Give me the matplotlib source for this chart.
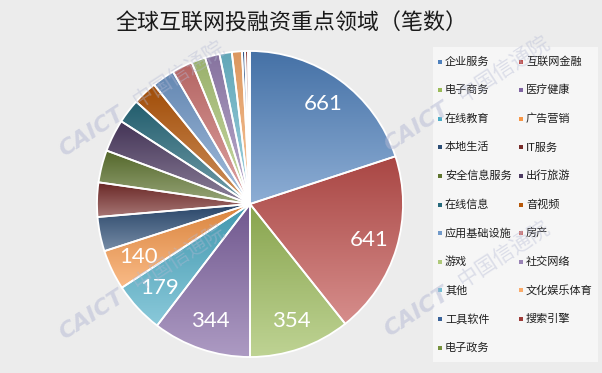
import numpy as np
import matplotlib
matplotlib.use("Agg")
import matplotlib.pyplot as plt
from matplotlib.colors import LinearSegmentedColormap, to_rgb
from matplotlib.patches import Rectangle

plt.rcParams["font.family"] = ["Noto Sans CJK SC", "DejaVu Sans"]

TITLE = "全球互联网投融资重点领域（笔数）"
CATEGORIES = [
    "企业服务", "互联网金融", "电子商务", "医疗健康", "在线教育", "广告营销",
    "本地生活", "IT服务", "安全信息服务", "出行旅游", "在线信息", "音视频",
    "应用基础设施", "房产", "游戏", "社交网络", "其他", "文化娱乐体育",
    "工具软件", "搜索引擎", "电子政务",
]
COUNTS = [661, 641, 354, 344, 179, 140, 120, 120, 113, 113, 85, 85,
          79, 72, 49, 51, 43, 35, 11, 10, 7]
LABELLED = 6  # only the six biggest slices carry a number

COLOURS = [
    "#4F81BD", "#C0504D", "#9BBB59", "#8064A2", "#4BACC6", "#F79646",
    "#2C4D75", "#772C2A", "#5F7530", "#4D3B62", "#276A7C", "#B65708",
    "#729ACA", "#CD7371", "#AFC97A", "#9983B5", "#6FBDD1", "#F9AB6B",
    "#3A639A", "#9E3B38", "#77923F",
]

W, H = 602, 373
BG = "#ECECEC"


def shade(colour, f):
    r = np.array(to_rgb(colour))
    if f < 0:
        return tuple(r * (1 + f))
    return tuple(r + (1 - r) * f)


def px(x, y):
    """pixel (from top-left) -> figure fraction"""
    return x / W, 1 - y / H


fig = plt.figure(figsize=(W / 100, H / 100), dpi=100, facecolor=BG)

# pie: centre (250, 204), radius 153 px
cx, cy, r = 250, 204, 153
ax = fig.add_axes([(cx - r) / W, (H - cy - r) / H, 2 * r / W, 2 * r / H])
ax.set_facecolor("none")

wedges, _ = ax.pie(
    COUNTS, colors=COLOURS, startangle=90, counterclock=False, radius=1,
    wedgeprops=dict(edgecolor="white", linewidth=1.3),
)

# vertical gradient per slice: darker on top, lighter at the bottom
for w, c in zip(wedges, COLOURS):
    th = np.radians(np.linspace(w.theta1, w.theta2, 60))
    xs = np.r_[0, np.cos(th)]
    ys = np.r_[0, np.sin(th)]
    cmap = LinearSegmentedColormap.from_list("g", [shade(c, -0.12), shade(c, 0.35)])
    im = ax.imshow(np.linspace(0, 1, 64)[:, None], extent=(xs.min(), xs.max(), ys.min(), ys.max()),
                   origin="upper", cmap=cmap, aspect="auto", zorder=1, interpolation="bilinear")
    im.set_clip_path(w)
    w.set_facecolor("none")
    w.set_zorder(2)

for w, n in zip(wedges[:LABELLED], COUNTS[:LABELLED]):
    mid = np.radians((w.theta1 + w.theta2) / 2)
    ax.text(0.81 * np.cos(mid), 0.81 * np.sin(mid), str(n), color="white",
            fontsize=16, family=["Lato", "DejaVu Sans"], ha="center", va="center", zorder=3)

ax.set_xlim(-1, 1)
ax.set_ylim(-1, 1)
ax.set_aspect("equal")
ax.axis("off")

# title
fig.text(*px(291, 24), TITLE, fontsize=15.8, color="#1A1A1A", ha="center", va="center")

# legend, two columns filled row by row
lx0, ly0 = px(433, 47)
lx1, ly1 = px(598, 362)
fig.patches.append(Rectangle((lx0, ly1), lx1 - lx0, ly0 - ly1, transform=fig.transFigure,
                             facecolor="#F6F6F6", edgecolor="none", zorder=0))
for i, (name, c) in enumerate(zip(CATEGORIES, COLOURS)):
    x = 438 + (i % 2) * 81
    y = 61.5 + (i // 2) * 28.6
    mx, my = px(x, y + 2)
    fig.patches.append(Rectangle((mx, my), 4 / W, 4 / H, transform=fig.transFigure,
                                 facecolor=c, edgecolor="none", zorder=3))
    fig.text(*px(x + 7, y), name, fontsize=8, color="#1F1F1F", ha="left", va="center",
             fontweight="medium")

# watermarks: "CAICT" then "中国信通院" along a 33 degree line
ang = np.radians(33)
ux, uy = np.cos(ang), -np.sin(ang)  # pixel direction (y down)
for wx, wy in [(140, 100), (140, 283), (465, 95), (465, 280)]:
    fig.text(*px(wx - 58 * ux, wy - 58 * uy), "CAICT", fontsize=16, fontweight="bold",
             style="italic", family=["DejaVu Sans"], color="#B4B9D4", alpha=0.5, rotation=33,
             ha="center", va="center", rotation_mode="anchor", zorder=5)
    fig.text(*px(wx + 47 * ux, wy + 47 * uy), "中国信通院", fontsize=15, color="#B4B9D4",
             alpha=0.4, rotation=33, ha="center", va="center", rotation_mode="anchor", zorder=5)

fig.savefig("out.png", dpi=100, facecolor=BG)
